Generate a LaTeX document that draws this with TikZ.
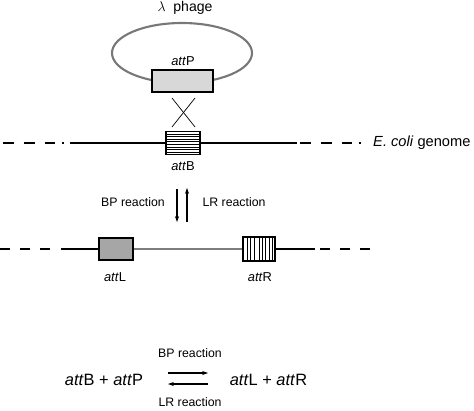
\documentclass[tikz,border=0pt]{standalone}
\usepackage{fontspec}
\setmainfont{Liberation Sans}
\usetikzlibrary{arrows.meta,shapes.geometric,calc}
\definecolor{ringgray}{RGB}{120,120,120}
\definecolor{boxlight}{RGB}{216,216,216}
\definecolor{boxdark}{RGB}{166,166,166}
\definecolor{midgray}{RGB}{125,125,125}
\newcommand{\att}[1]{\textit{att}#1}
\newcommand{\fsz}[1]{\fontsize{#1}{#1}\selectfont}
\tikzset{
  sitebox/.style={
    rectangle,
    draw=black,
    line width=1.1pt,
    inner sep=0pt,
    minimum width=10.2mm,
    minimum height=6.8mm
  },
  hatchh/.style={
    path picture={
      \foreach \k in {1,...,8}
        \draw[line width=0.45pt]
          ($(path picture bounding box.north west)!\k/9!(path picture bounding box.south west)$) --
          ($(path picture bounding box.north east)!\k/9!(path picture bounding box.south east)$);
    }
  },
  hatchv/.style={
    path picture={
      \foreach \k in {0.13,0.23,0.34,0.5,0.6,0.71,0.82,0.91}
        \draw[line width=0.45pt]
          ($(path picture bounding box.north west)!\k!(path picture bounding box.north east)$) --
          ($(path picture bounding box.south west)!\k!(path picture bounding box.south east)$);
    }
  },
  sitelabel/.style={font=\fsz{11}, inner sep=0pt},
  rxnlabel/.style={font=\fsz{10.5}, inner sep=0pt},
  dna/.style={line width=1.9pt, black},
  dnaend/.style={line width=1.9pt, black,
    dash pattern={on 9.5pt off 8pt on 9.5pt off 8.5pt on 9pt off 6pt on 1.7pt off 30pt}},
  dnadash/.style={line width=1.9pt, black, dash pattern={on 8.5pt off 8.5pt}},
  rxn/.style={-{Stealth[length=5pt,width=3.5pt]}, line width=0.9pt, black}
}

\begin{document}
\begin{tikzpicture}[x=0.3mm, y=-0.3mm]
\useasboundingbox (0,0) rectangle (474,410);
% phage circle with attP
\node[ellipse, draw=ringgray, line width=1.8pt, minimum width=42mm, minimum height=18mm,
  inner sep=0pt] (phage) at (182,53) {};
\node[font=\fsz{12}, inner sep=0pt] (phagelabel) at (185,8) {$\lambda$\ \ phage};
\node[sitebox, fill=boxlight, minimum width=18.3mm, minimum height=6.6mm] (attP) at (182.5,81) {};
\node[sitelabel] (attPlabel) at (183,61) {\att{P}};
% crossover
\coordinate (xa) at (172,98);
\coordinate (xb) at (195,98);
\coordinate (xc) at (172,127);
\coordinate (xd) at (195,127);
\draw[line width=0.6pt] (xa) -- (xd);
\draw[line width=0.6pt] (xb) -- (xc);
% E. coli genome with attB
\node[sitebox, fill=white, hatchh, minimum height=6.9mm] (attB) at (183,143) {};
\node[sitelabel] (attBlabel) at (183,166) {\att{B}};
\coordinate (g1) at (3,143);
\coordinate (g2) at (70,143);
\coordinate (g3) at (297,143);
\coordinate (g4) at (300,143);
\draw[dnaend] (g1) -- (g2);
\draw[dna] (g2) -- (attB.west);
\draw[dna] (attB.east) -- (g3);
\draw[dnaend] (g4) -- (370,143);
\node[font=\fsz{12.5}, anchor=west, inner sep=0pt] (genome) at (373,143) {\textit{E. coli} genome};
% BP / LR arrows
\coordinate (dn1) at (177,189);
\coordinate (dn2) at (177,222);
\coordinate (up1) at (187,222);
\coordinate (up2) at (187,188);
\draw[rxn] (dn1) -- (dn2);
\draw[rxn] (up1) -- (up2);
\node[rxnlabel] (bp) at (133,202) {BP reaction};
\node[rxnlabel] (lr) at (234,202) {LR reaction};
% prophage with attL and attR
\node[sitebox, fill=boxdark, minimum height=6.6mm] (attL) at (116,249) {};
\node[sitebox, fill=white, hatchv, minimum width=9.6mm, minimum height=7.2mm] (attR) at (259,249) {};
\node[sitelabel] (attLlabel) at (115,277) {\att{L}};
\node[sitelabel] (attRlabel) at (260,277) {\att{R}};
\coordinate (p1) at (0,249);
\coordinate (p2) at (61,249);
\coordinate (p3) at (315,249);
\coordinate (p4) at (320,249);
\draw[dnadash] (p1) -- (56,249);
\draw[dna] (p2) -- (attL.west);
\draw[line width=1.3pt, midgray] (attL.east) -- (attR.west);
\draw[dna] (attR.east) -- (p3);
\draw[dnadash] (p4) -- (372,249);
% overall reaction
\node[font=\fsz{14}, inner sep=0pt] (lhs) at (104,380) {\att{B} + \att{P}};
\node[font=\fsz{14}, inner sep=0pt] (rhs) at (268.5,380) {\att{L} + \att{R}};
\coordinate (fw1) at (168,373);
\coordinate (fw2) at (208,373);
\coordinate (bw1) at (208,384);
\coordinate (bw2) at (168,384);
\draw[rxn] (fw1) -- (fw2);
\draw[rxn] (bw1) -- (bw2);
\node[rxnlabel] (bp2) at (190,353) {BP reaction};
\node[rxnlabel] (lr2) at (190,402) {LR reaction};
\end{tikzpicture}
\end{document}
